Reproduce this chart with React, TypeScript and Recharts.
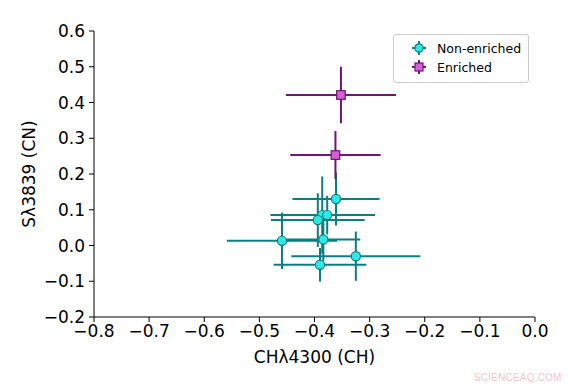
import { ScatterChart, Scatter, XAxis, YAxis, ErrorBar } from "recharts";

// axis ticks
const chTicks = [-0.8, -0.7, -0.6, -0.5, -0.4, -0.3, -0.2, -0.1, 0.0];
const cnTicks = [-0.2, -0.1, 0.0, 0.1, 0.2, 0.3, 0.4, 0.5, 0.6];

// non-enriched stars
const nonEnrichedCH = [-0.361, -0.386, -0.377, -0.394, -0.459, -0.384, -0.325, -0.39];
const nonEnrichedCN = [0.13, 0.085, 0.085, 0.071, 0.013, 0.017, -0.03, -0.054];
const nonEnrichedCHErr = [0.079, 0.094, 0.087, 0.085, 0.1, 0.067, 0.117, 0.084];
const nonEnrichedCNErr = [0.074, 0.108, 0.054, 0.075, 0.079, 0.06, 0.069, 0.047];

// enriched stars
const enrichedCH = [-0.352, -0.362];
const enrichedCN = [0.421, 0.253];
const enrichedCHErr = [0.1, 0.082];
const enrichedCNErr = [0.079, 0.067];

const TEAL = "#0a7f80";
const CYAN = "#2ee8e6";
const PURPLE = "#6f1478";
const ORCHID = "#d65fd6";
const FONT = "DejaVu Sans";

const nonEnriched = nonEnrichedCH.map((ch, i) => ({
  ch,
  cn: nonEnrichedCN[i],
  chErr: nonEnrichedCHErr[i],
  cnErr: nonEnrichedCNErr[i],
}));
const enriched = enrichedCH.map((ch, i) => ({
  ch,
  cn: enrichedCN[i],
  chErr: enrichedCHErr[i],
  cnErr: enrichedCNErr[i],
}));

const fmt = (v: number) =>
  v < -1e-9 ? "\u2212" + Math.abs(v).toFixed(1) : Math.abs(v).toFixed(1);

const CircleMark = (p: any) => (
  <circle cx={p.cx} cy={p.cy} r={4.6} fill={CYAN} stroke={TEAL} strokeWidth={1.2} />
);
const SquareMark = (p: any) => (
  <rect x={p.cx - 4.3} y={p.cy - 4.3} width={8.6} height={8.6} fill={ORCHID} stroke={PURPLE} strokeWidth={1.2} />
);

const tickStyle = { fill: "#000", fontSize: 17, fontFamily: FONT };

function LegendBox() {
  return (
    <div
      style={{
        position: "absolute",
        left: 393,
        top: 34,
        width: 134,
        height: 47,
        border: "1px solid #cccccc",
        borderRadius: 3,
        background: "rgba(255,255,255,0.85)",
        fontFamily: FONT,
        fontSize: 12.5,
      }}
    >
      <svg width={134} height={47} style={{ position: "absolute", left: 0, top: 0 }}>
        <line x1={18} x2={32} y1={13} y2={13} stroke={TEAL} strokeWidth={2} />
        <line x1={25} x2={25} y1={6} y2={20} stroke={TEAL} strokeWidth={2} />
        <circle cx={25} cy={13} r={4.2} fill={CYAN} stroke={TEAL} strokeWidth={1.2} />
        <line x1={18} x2={32} y1={32} y2={32} stroke={PURPLE} strokeWidth={2} />
        <line x1={25} x2={25} y1={25} y2={39} stroke={PURPLE} strokeWidth={2} />
        <rect x={21} y={28} width={8} height={8} fill={ORCHID} stroke={PURPLE} strokeWidth={1.2} />
        <text x={43} y={17.5} fontSize={12.5} fontFamily={FONT} fill="#000">Non-enriched</text>
        <text x={43} y={36.5} fontSize={12.5} fontFamily={FONT} fill="#000">Enriched</text>
      </svg>
    </div>
  );
}

export default function App() {
  return (
    <div style={{ position: "absolute", left: 0, top: 0, width: 572, height: 388, background: "#fff" }}>
      <ScatterChart
        width={572}
        height={388}
        margin={{ top: 31, right: 37, left: 0, bottom: 0 }}
        style={{ fontFamily: FONT }}
      >
        <XAxis
          type="number"
          dataKey="ch"
          domain={[-0.8, 0]}
          ticks={chTicks}
          tickFormatter={fmt}
          height={71}
          tickSize={5}
          tickMargin={3}
          tick={tickStyle}
          axisLine={{ stroke: "#000", strokeWidth: 1 }}
          tickLine={{ stroke: "#000" }}
          allowDataOverflow
          label={{ value: "CH\u03bb4300 (CH)", position: "insideBottom", offset: 25, fill: "#000", fontSize: 17, fontFamily: FONT }}
        />
        <XAxis
          xAxisId="top"
          orientation="top"
          type="number"
          domain={[-0.8, 0]}
          height={0}
          tick={false}
          tickLine={false}
          axisLine={{ stroke: "#000", strokeWidth: 1 }}
        />
        <YAxis
          type="number"
          dataKey="cn"
          domain={[-0.2, 0.6]}
          ticks={cnTicks}
          tickFormatter={fmt}
          width={94}
          tickSize={5}
          tickMargin={4}
          tick={tickStyle}
          axisLine={{ stroke: "#000", strokeWidth: 1 }}
          tickLine={{ stroke: "#000" }}
          allowDataOverflow
          label={{ value: "S\u03bb3839 (CN)", angle: -90, position: "insideLeft", offset: 29, style: { textAnchor: "middle" }, fill: "#000", fontSize: 17, fontFamily: FONT }}
        />
        <YAxis
          yAxisId="right"
          orientation="right"
          type="number"
          domain={[-0.2, 0.6]}
          width={0}
          tick={false}
          tickLine={false}
          axisLine={{ stroke: "#000", strokeWidth: 1 }}
        />
        <Scatter data={nonEnriched} shape={CircleMark} isAnimationActive={false}>
          <ErrorBar dataKey="chErr" direction="x" width={0} stroke={TEAL} strokeWidth={2} />
          <ErrorBar dataKey="cnErr" direction="y" width={0} stroke={TEAL} strokeWidth={2} />
        </Scatter>
        <Scatter data={enriched} shape={SquareMark} isAnimationActive={false}>
          <ErrorBar dataKey="chErr" direction="x" width={0} stroke={PURPLE} strokeWidth={2} />
          <ErrorBar dataKey="cnErr" direction="y" width={0} stroke={PURPLE} strokeWidth={2} />
        </Scatter>
      </ScatterChart>
      <LegendBox />
      <div
        style={{
          position: "absolute",
          left: 474,
          top: 372,
          fontFamily: "Liberation Sans",
          fontSize: 10,
          color: "#f2c6c6",
          letterSpacing: 0.2,
        }}
      >
        SCIENCEAQ.COM
      </div>
    </div>
  );
}
